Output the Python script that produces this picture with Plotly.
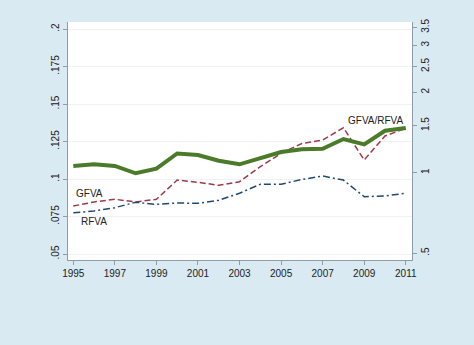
import plotly.graph_objects as go

years = list(range(1995, 2012))
gfva = [0.0820, 0.0847, 0.0865, 0.0847, 0.0865, 0.0993, 0.0978, 0.0958, 0.0982,
        0.1082, 0.1171, 0.1237, 0.1260, 0.1342, 0.1127, 0.1287, 0.1338]
rfva = [0.0775, 0.0787, 0.0809, 0.0845, 0.0831, 0.0840, 0.0838, 0.0858, 0.0905,
        0.0965, 0.0965, 0.0997, 0.1020, 0.0993, 0.0882, 0.0887, 0.0905]
ratio = [1.060, 1.075, 1.060, 0.995, 1.035, 1.180, 1.165, 1.109, 1.075,
         1.132, 1.195, 1.224, 1.230, 1.337, 1.277, 1.436, 1.470]

left_ticks = [0.05, 0.075, 0.1, 0.125, 0.15, 0.175, 0.2]
left_text = ['.05', '.075', '.1', '.125', '.15', '.175', '.2']
right_ticks = [0.5, 1, 1.5, 2, 2.5, 3, 3.5]
right_text = ['.5', '1', '1.5', '2', '2.5', '3', '3.5']
x_ticks = list(range(1995, 2012, 2))

FONT = "Arial, Liberation Sans, sans-serif"
AXC = "#8d9ca8"
TXT = "#222222"

fig = go.Figure()
fig.add_trace(go.Scatter(x=years, y=gfva, mode="lines", name="GFVA",
                         line=dict(color="#9e3a48", width=1.5, dash="6px,3px")))
fig.add_trace(go.Scatter(x=years, y=rfva, mode="lines", name="RFVA",
                         line=dict(color="#1f4a6e", width=1.5, dash="7px,3px,2px,3px")))
fig.add_trace(go.Scatter(x=years, y=ratio, mode="lines", name="GFVA/RFVA", yaxis="y2",
                         line=dict(color="#4a7b28", width=4)))

fig.update_layout(
    width=474, height=345,
    margin=dict(l=68, r=62, t=22, b=85),
    paper_bgcolor="#d9eaf2",
    plot_bgcolor="#ffffff",
    showlegend=False,
    font=dict(family=FONT, size=10, color=TXT),
    xaxis=dict(range=[1994.745, 2011.3], tickvals=x_ticks, ticks="outside", ticklen=4,
               tickcolor=AXC, showline=True, linecolor=AXC, linewidth=1, showgrid=False,
               zeroline=False, tickfont=dict(size=10, color=TXT)),
    yaxis=dict(range=[0.046, 0.2047], tickvals=left_ticks, ticktext=left_text,
               ticks="outside", ticklen=4, tickcolor=AXC, showline=True, linecolor=AXC,
               linewidth=1, showgrid=True, gridcolor="#eef2f4", gridwidth=1,
               zeroline=False, tickangle=-90, tickfont=dict(size=10, color=TXT)),
    yaxis2=dict(overlaying="y", side="right", type="log",
                range=[-0.3269, 0.5643], tickvals=right_ticks, ticktext=right_text,
                ticks="outside", ticklen=4, tickcolor=AXC, showline=True, linecolor=AXC,
                linewidth=1, showgrid=False, zeroline=False, tickangle=-90,
                tickfont=dict(size=10, color=TXT)),
    annotations=[
        dict(x=1995.05, y=0.0905, xref="x", yref="y", text="GFVA", showarrow=False,
             xanchor="left", yanchor="middle", font=dict(size=10, color=TXT)),
        dict(x=1995.29, y=0.0715, xref="x", yref="y", text="RFVA", showarrow=False,
             xanchor="left", yanchor="middle", font=dict(size=10, color=TXT)),
        dict(x=2011.01, y=0.1393, xref="x", yref="y", text="GFVA/RFVA", showarrow=False,
             xanchor="right", yanchor="middle", font=dict(size=10, color=TXT)),
    ],
)

fig.write_html("out.html")
